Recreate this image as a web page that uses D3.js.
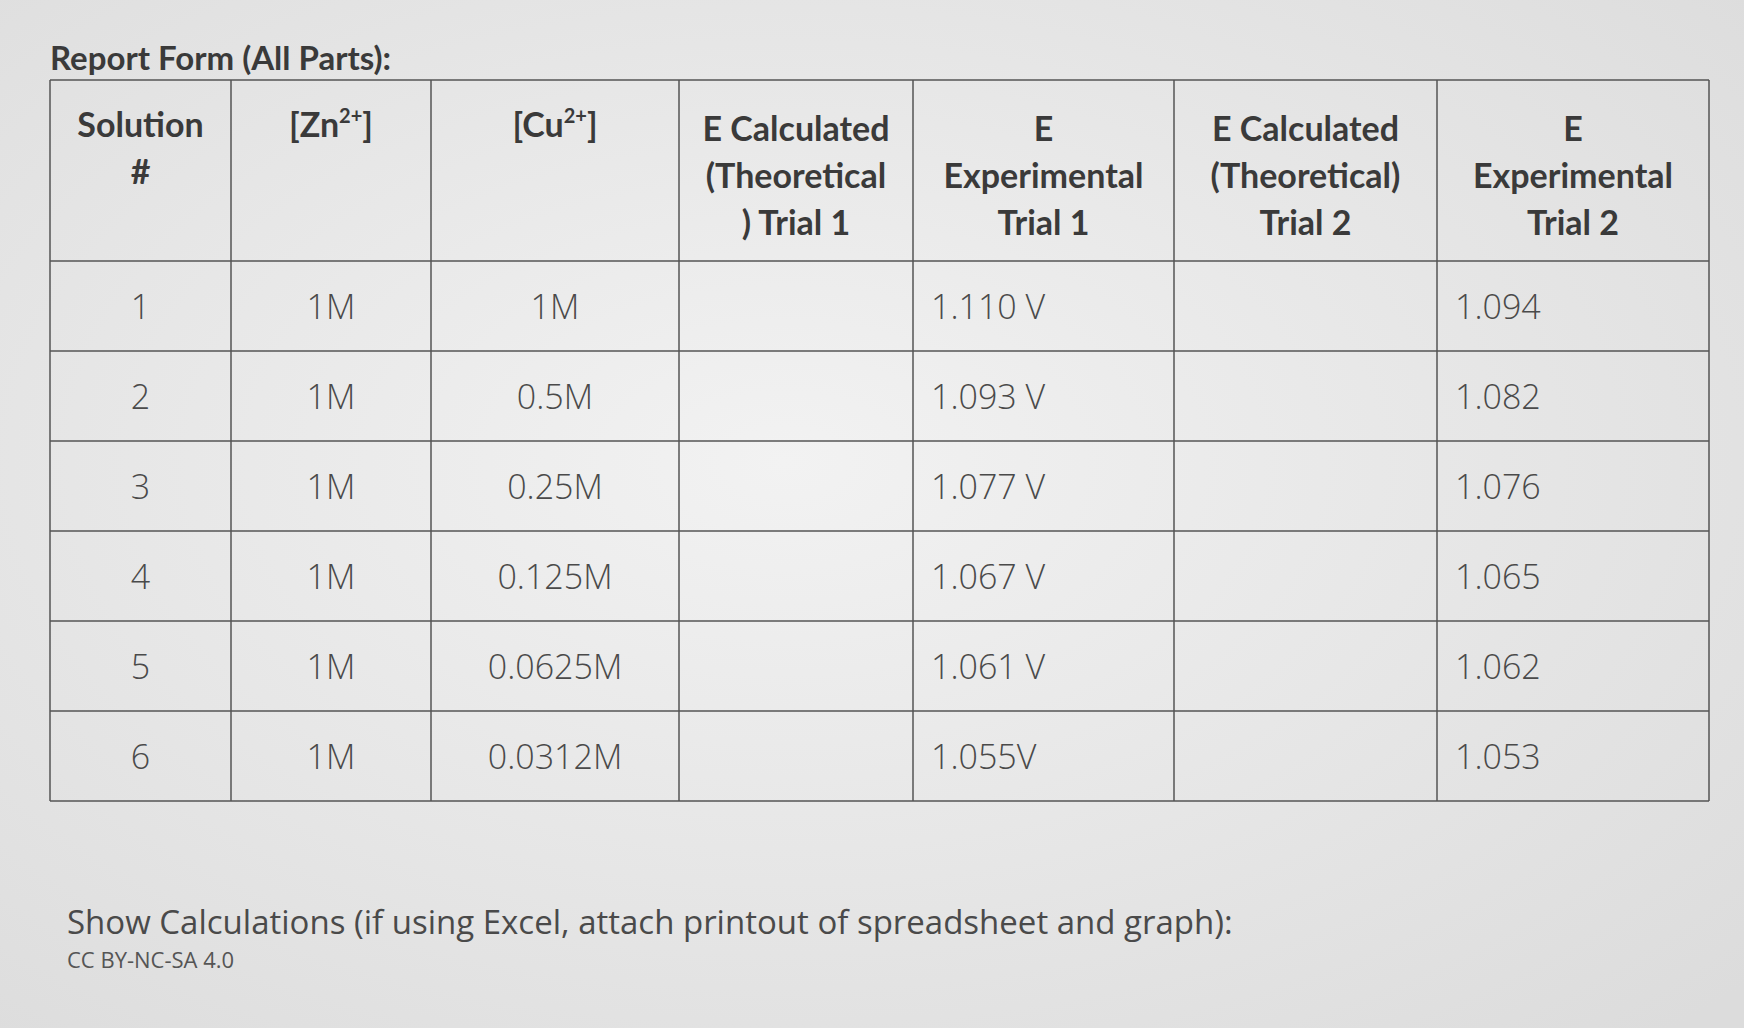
<!DOCTYPE html>
<html><head><meta charset="utf-8">
<script src="https://cdn.jsdelivr.net/npm/d3@7"></script>
<style>body{margin:0;background:#e6e6e6}</style></head>
<body><svg id="c" width="1744" height="1028"></svg>
<script>
const title = "Report Form (All Parts):";
const headers = [["Solution","#"],["[Zn2+]"],["[Cu2+]"],["E Calculated","(Theoretical",") Trial 1"],["E","Experimental","Trial 1"],["E Calculated","(Theoretical)","Trial 2"],["E","Experimental","Trial 2"]];
const solution = ["1","2","3","4","5","6"];
const zn = ["1M","1M","1M","1M","1M","1M"];
const cu = ["1M","0.5M","0.25M","0.125M","0.0625M","0.0312M"];
const eCalc1 = ["","","","","",""];
const eExp1 = ["1.110 V","1.093 V","1.077 V","1.067 V","1.061 V","1.055V"];
const eCalc2 = ["","","","","",""];
const eExp2 = ["1.094","1.082","1.076","1.065","1.062","1.053"];
const footer = "Show Calculations (if using Excel, attach printout of spreadsheet and graph):";
const license = "CC BY-NC-SA 4.0";

const svg = d3.select("#c");
const defs = svg.append("defs");
const g0 = defs.append("radialGradient").attr("id","bg").attr("cx","45%").attr("cy","45%").attr("r","75%");
g0.append("stop").attr("offset","0").attr("stop-color","#f2f2f2");
g0.append("stop").attr("offset","1").attr("stop-color","#dcdcdc");
svg.append("rect").attr("width",1744).attr("height",1028).attr("fill","url(#bg)");

const colEdges = [50,231,431,679,913,1174,1437,1709];
const tableTop = 80, headH = 181, rowH = 90;
const cols = [solution,zn,cu,eCalc1,eExp1,eCalc2,eExp2];
const y = d3.scaleBand().domain(solution).range([tableTop+headH, tableTop+headH+rowH*6]);
const font = "Lato, 'Open Sans', sans-serif";

svg.append("text").attr("x",50).attr("y",70).attr("font-family",font).attr("font-weight","bold")
  .attr("font-size",33).attr("fill","#3a3a3a").text(title);

const grid = svg.append("g").attr("stroke","#555").attr("stroke-width",1.5).attr("fill","none");
colEdges.forEach(x=>grid.append("line").attr("x1",x).attr("x2",x).attr("y1",tableTop).attr("y2",tableTop+headH+rowH*6));
[tableTop, tableTop+headH, ...solution.map(s=>y(s)+rowH)].forEach(yy=>grid.append("line").attr("x1",50).attr("x2",1709).attr("y1",yy).attr("y2",yy));

headers.forEach((h,i)=>{
  const cx=(colEdges[i]+colEdges[i+1])/2;
  const startY = (i<3)? tableTop+57 : tableTop+61;
  h.forEach((line,j)=>{
    const t=svg.append("text").attr("x",cx).attr("y",startY+j*47).attr("text-anchor","middle")
      .attr("font-family",font).attr("font-weight","bold").attr("font-size",34).attr("fill","#3a3a3a");
    const m=line.match(/^\[(\w+)2\+\]$/);
    if(m){t.append("tspan").text("["+m[1]);t.append("tspan").attr("font-size",20).attr("dy",-14).text("2+");t.append("tspan").attr("dy",14).text("]");}
    else t.text(line);
  });
});

cols.forEach((arr,i)=>{
  const left = (i===4||i===6);
  arr.forEach((v,r)=>{
    svg.append("text").attr("x", left? colEdges[i]+18 : (colEdges[i]+colEdges[i+1])/2)
      .attr("y", y(solution[r])+rowH/2+13).attr("text-anchor", left?"start":"middle")
      .attr("font-family","'Open Sans', sans-serif").attr("font-weight",300).attr("font-size",34).attr("fill","#4a4a4a").text(v);
  });
});

svg.append("text").attr("x",67).attr("y",934).attr("font-family","'Open Sans', sans-serif").attr("font-size",33).attr("fill","#4a4a4a").text(footer);
svg.append("text").attr("x",67).attr("y",968).attr("font-family","'Open Sans', sans-serif").attr("font-size",22).attr("fill","#555").text(license);
</script></body></html>
